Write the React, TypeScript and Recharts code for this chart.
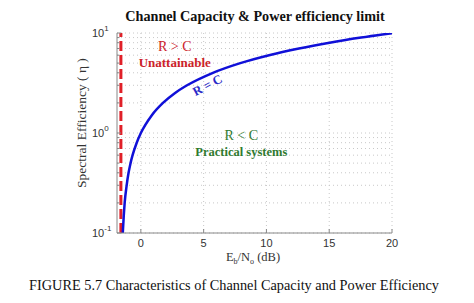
import React from 'react';
import {
  LineChart,
  Line,
  XAxis,
  YAxis,
  CartesianGrid,
  ReferenceLine,
  ReferenceDot,
} from 'recharts';

const SERIF = '"Liberation Serif", "Times New Roman", serif';
const SANS = '"Liberation Sans", Arial, sans-serif';

// Spectral efficiency (bit/s/Hz) along the capacity boundary R = C
const spectralEfficiency = [
  0.1, 0.15, 0.2, 0.3, 0.4, 0.5, 0.6, 0.8, 1, 1.5, 2, 2.5, 3, 4, 5, 6, 7, 8, 9, 10,
];
// Required Eb/No (dB) at each spectral efficiency
const ebnoDb = [
  -1.44, -1.36, -1.29, -1.13, -0.98, -0.82, -0.66, -0.33, 0, 0.86, 1.76, 2.7, 3.68,
  5.74, 7.92, 10.21, 12.59, 15.03, 17.54, 20.1,
];

// Shannon limit
const shannonLimitDb = -1.59;

const xTicks = [0, 5, 10, 15, 20];
const yGrid = [
  0.1, 0.2, 0.3, 0.4, 0.5, 0.6, 0.7, 0.8, 0.9, 1, 2, 3, 4, 5, 6, 7, 8, 9, 10,
];
const yLabelled = [0.1, 1, 10];

const data = spectralEfficiency.map((eta, i) => ({ ebno: ebnoDb[i], eta }));

// Left axis tick: short inward mark, plus a power-of-ten label on decades
const YTick = (props: any) => {
  const { y, payload } = props;
  const axisX = 117;
  const v = payload.value;
  const decade = yLabelled.some((d) => Math.abs(d - v) < 1e-9);
  const exp = Math.round(Math.log10(v));
  return (
    <g>
      <line x1={axisX} x2={axisX + (decade ? 4 : 2.5)} y1={y} y2={y} stroke="#888" strokeWidth={1} />
      {decade && (
        <text x={axisX - 25} y={y + 4} textAnchor="start" fontFamily={SANS} fontSize={11} fill="#333">
          10
          <tspan dy={-6} fontSize={8}>
            {exp}
          </tspan>
        </text>
      )}
    </g>
  );
};

const XTick = (props: any) => {
  const { x, payload } = props;
  const axisY = 233;
  return (
    <g>
      <line x1={x} x2={x} y1={axisY} y2={axisY - 4} stroke="#888" strokeWidth={1} />
      <text x={x} y={axisY + 14} textAnchor="middle" fontFamily={SANS} fontSize={11} fill="#333">
        {payload.value}
      </text>
    </g>
  );
};

const textShape =
  (lines: { text: string; dy: number; bold?: boolean; size?: number }[], color: string, rotate = 0) =>
  (p: any) => (
    <g transform={`translate(${p.cx},${p.cy}) rotate(${rotate})`}>
      {lines.map((l, i) => (
        <text
          key={i}
          x={0}
          y={l.dy}
          textAnchor="middle"
          fontFamily={SERIF}
          fontSize={l.size ?? 12}
          fontWeight={l.bold ? 'bold' : 'normal'}
          fill={color}
        >
          {l.text}
        </text>
      ))}
    </g>
  );

export default function App() {
  return (
    <div
      style={{
        position: 'absolute',
        left: 0,
        top: 0,
        width: 474,
        height: 303,
        background: '#fff',
      }}
    >
      <LineChart
        width={474}
        height={303}
        data={data}
        margin={{ top: 33, right: 82, bottom: 40, left: 77 }}
      >
        <CartesianGrid
          stroke="#c8c8c8"
          strokeDasharray="1 3"
          horizontalValues={yGrid}
          verticalValues={xTicks}
        />
        <XAxis
          type="number"
          dataKey="ebno"
          domain={[-1.9, 20]}
          ticks={xTicks}
          allowDataOverflow
          height={30}
          stroke="#888"
          tickLine={false}
          tick={<XTick />}
        />
        <YAxis
          type="number"
          dataKey="eta"
          scale="log"
          domain={[0.1, 10]}
          ticks={yGrid}
          interval={0}
          allowDataOverflow
          width={40}
          stroke="#888"
          tickLine={false}
          tick={<YTick />}
        />
        <ReferenceLine
          x={shannonLimitDb}
          stroke="#e02028"
          strokeWidth={3}
          strokeDasharray="10 4"
        />
        <Line
          type="monotone"
          dataKey="eta"
          stroke="#1010d8"
          strokeWidth={2.5}
          dot={false}
          isAnimationActive={false}
        />
        <ReferenceDot
          x={2.7}
          y={6.6}
          r={0}
          shape={textShape(
            [
              { text: 'R > C', dy: 0, size: 14 },
              { text: 'Unattainable', dy: 16, bold: true, size: 13 },
            ],
            '#cc2229',
          )}
        />
        <ReferenceDot
          x={5.3}
          y={3.0}
          r={0}
          shape={textShape([{ text: 'R = C', dy: 4, bold: true, size: 12.5 }], '#2a2ac8', -28)}
        />
        <ReferenceDot
          x={8.0}
          y={0.85}
          r={0}
          shape={textShape(
            [
              { text: 'R < C', dy: 0, size: 14 },
              { text: 'Practical systems', dy: 16, bold: true, size: 12.5 },
            ],
            '#2f7a2f',
          )}
        />
      </LineChart>
      <svg
        width={474}
        height={303}
        style={{ position: 'absolute', left: 0, top: 0, pointerEvents: 'none' }}
      >
        <text
          x={255}
          y={21}
          textAnchor="middle"
          fontFamily={SERIF}
          fontSize={14.2}
          fontWeight="bold"
          fill="#111"
        >
          Channel Capacity &amp; Power efficiency limit
        </text>
        <text
          x={83}
          y={123}
          transform="rotate(-90 83 123)"
          textAnchor="middle"
          dominantBaseline="middle"
          fontFamily={SERIF}
          fontSize={13.5}
          fill="#333"
        >
          Spectral Efficiency ( η )
        </text>
        <text x={253} y={261} textAnchor="middle" fontFamily={SERIF} fontSize={12.5} fill="#333">
          E<tspan dy={3} fontSize={8}>b</tspan>
          <tspan dy={-3}>/N</tspan>
          <tspan dy={3} fontSize={8}>o</tspan>
          <tspan dy={-3}> (dB)</tspan>
        </text>
        <text x={234} y={290} textAnchor="middle" fontFamily={SERIF} fontSize={14.3} fill="#111">
          FIGURE 5.7 Characteristics of  Channel Capacity and Power Efficiency
        </text>
      </svg>
    </div>
  );
}
